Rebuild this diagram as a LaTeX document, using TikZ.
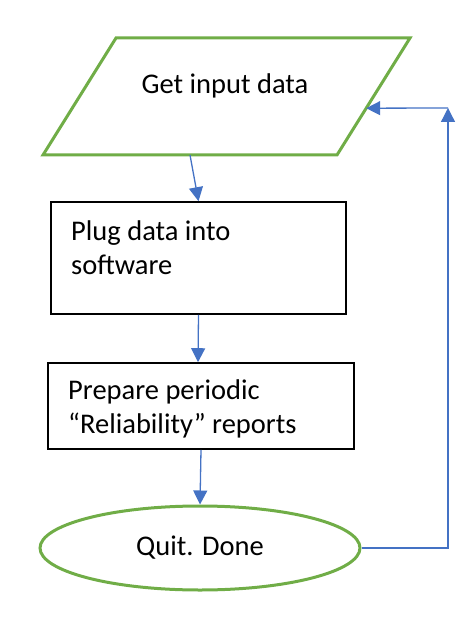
\documentclass[tikz,border=0pt]{standalone}
\usepackage{fontspec}
\setmainfont{Carlito}
\usetikzlibrary{arrows.meta,calc,shapes.geometric}

\definecolor{flowgreen}{RGB}{112,173,71}
\definecolor{flowblue}{RGB}{68,114,196}

\begin{document}
\begin{tikzpicture}[x=1pt, y=-1pt,
		io/.style={draw=flowgreen, line width=3pt, line join=miter},
		procbox/.style={draw=black, line width=1.6pt, rectangle, inner sep=0pt},
		endbox/.style={draw=flowgreen, line width=3pt, ellipse, inner sep=0pt, minimum width=320pt, minimum height=84pt},
		flow/.style={draw=flowblue, line width=1.3pt, -{Triangle[width=14pt,length=14pt]}},
		txt/.style={font=\fontsize{28.5}{34}\selectfont, inner sep=0pt, align=left}]
			%%%%% START %%%%%
			
			\useasboundingbox (0, 0) rectangle (474, 620);
			
			\coordinate (in-bl) at (43, 155);
			\coordinate (in-br) at (337, 155);
			\coordinate (in-tr) at (410, 38);
			\coordinate (in-tl) at (116, 38);
			\draw[io] (in-bl) -- (in-br) -- (in-tr) -- (in-tl) -- cycle;
			\node[txt, anchor=base] (input) at (225, 94) {Get input data};
			
			\coordinate (in-out) at ($(in-bl)!0.5!(in-br)$);
			\coordinate (in-back) at ($(in-br)!0.4!(in-tr)$);
			
			\node[procbox, minimum width=295pt, minimum height=112pt] (plug) at (198.5, 258) {};
			\node[txt, anchor=base west] (plugtxt) at (71, 274) {Plug data into\\software};
			
			\node[procbox, minimum width=306pt, minimum height=86pt] (prep) at (201, 406) {};
			\node[txt, anchor=base west] (preptxt) at (68, 433) {Prepare periodic\\“Reliability” reports};
			
			\node[endbox, font=\fontsize{28.5}{34}\selectfont] (done) at (200, 548) {Quit. Done};
			
			\coordinate (turn) at (448, 108);
			
			\draw[flow] (in-out) -- (plug.north);
			\draw[flow] (plug.south) -- ([xshift=-3pt]prep.north);
			\draw[flow] (prep.south) -- (done.north);
			\draw[flow] (done.east) -| (turn);
			\draw[flow] (turn) -- (in-back);
			
			%%%%% END %%%%%
		\end{tikzpicture}
\end{document}
